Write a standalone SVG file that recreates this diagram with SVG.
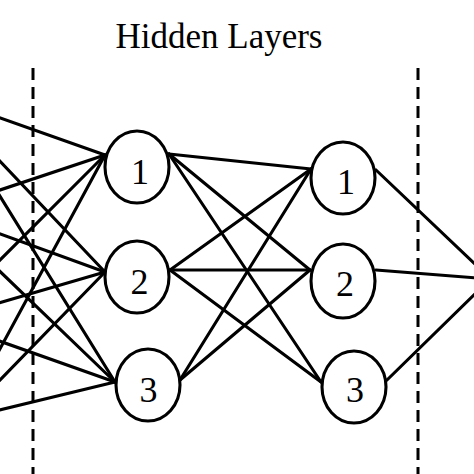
<svg xmlns="http://www.w3.org/2000/svg" width="474" height="474" viewBox="0 0 474 474">
<style>
.c{stroke:#000;stroke-width:3.1;fill:none;stroke-linecap:round}
.d{stroke:#000;stroke-width:3;stroke-dasharray:12 7;fill:none}
.n{fill:#fff;stroke:#000;stroke-width:3.1}
.t{font-family:"Liberation Serif","Times New Roman",serif;font-size:35px;fill:#000;text-anchor:middle}
.l{font-family:"Liberation Serif","Times New Roman",serif;font-size:36px;fill:#000;text-anchor:middle}
</style>
<rect width="474" height="474" fill="#fff"/>
<text class="t" x="219" y="48">Hidden Layers</text>
<g id="dividers">
<line class="d" x1="33" y1="68" x2="33" y2="474"/>
<line class="d" x1="418" y1="68" x2="418" y2="474"/>
</g>
<g id="connectors">
<line class="c" x1="-62" y1="96" x2="105" y2="155"/>
<line class="c" x1="-62" y1="96" x2="105" y2="272"/>
<line class="c" x1="-62" y1="96" x2="115" y2="382"/>
<line class="c" x1="-63" y1="211" x2="105" y2="155"/>
<line class="c" x1="-63" y1="211" x2="105" y2="272"/>
<line class="c" x1="-63" y1="211" x2="115" y2="382"/>
<line class="c" x1="-60" y1="320" x2="105" y2="155"/>
<line class="c" x1="-60" y1="320" x2="105" y2="272"/>
<line class="c" x1="-60" y1="320" x2="115" y2="382"/>
<line class="c" x1="-38" y1="419" x2="105" y2="155"/>
<line class="c" x1="-38" y1="419" x2="105" y2="272"/>
<line class="c" x1="-38" y1="419" x2="115" y2="382"/>
<line class="c" x1="169" y1="154" x2="311" y2="169"/>
<line class="c" x1="169" y1="154" x2="310" y2="270"/>
<line class="c" x1="169" y1="154" x2="321" y2="382"/>
<line class="c" x1="170" y1="270" x2="311" y2="169"/>
<line class="c" x1="170" y1="270" x2="310" y2="270"/>
<line class="c" x1="170" y1="270" x2="321" y2="382"/>
<line class="c" x1="180" y1="380" x2="311" y2="169"/>
<line class="c" x1="180" y1="380" x2="310" y2="270"/>
<line class="c" x1="376" y1="170" x2="478" y2="267"/>
<line class="c" x1="376" y1="270" x2="478" y2="278"/>
<line class="c" x1="387" y1="380" x2="478" y2="291"/>
</g>
<g id="h1n1"><ellipse class="n" cx="137" cy="167" rx="32" ry="36"/><text class="l" x="140" y="184">1</text></g>
<g id="h1n2"><ellipse class="n" cx="137" cy="277" rx="32" ry="36"/><text class="l" x="139.5" y="294">2</text></g>
<g id="h1n3"><ellipse class="n" cx="148" cy="385" rx="32" ry="36"/><text class="l" x="148.5" y="402">3</text></g>
<g id="h2n1"><ellipse class="n" cx="343" cy="178" rx="32" ry="36"/><text class="l" x="346" y="194">1</text></g>
<g id="h2n2"><ellipse class="n" cx="343" cy="281" rx="32" ry="37"/><text class="l" x="345" y="296">2</text></g>
<g id="h2n3"><ellipse class="n" cx="354" cy="387" rx="32" ry="36"/><text class="l" x="355" y="402">3</text></g>
</svg>
